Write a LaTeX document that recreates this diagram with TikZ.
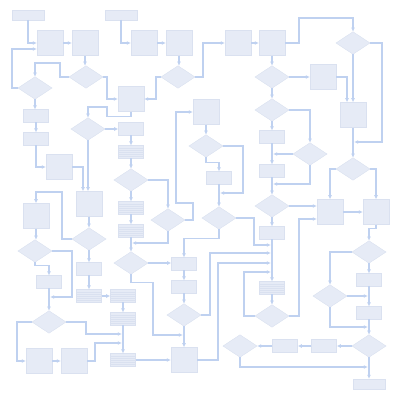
\documentclass[tikz,border=0pt]{standalone}
\usetikzlibrary{shapes.geometric, arrows.meta, calc}
\definecolor{chartfill}{HTML}{E6EBF6}
\definecolor{chartline}{HTML}{BFD1F0}
\definecolor{chartedge}{HTML}{DAE1F0}

\tikzset{
  base/.style={fill=chartfill, draw=chartedge, line width=0.3pt, inner sep=0pt, outer sep=0pt},
  box/.style={base, minimum width=0.65cm, minimum height=0.63cm},
  proc/.style={base, minimum width=0.63cm, minimum height=0.32cm},
  term/.style={base, minimum width=0.8cm, minimum height=0.25cm},
  dia/.style={base, diamond, minimum width=0.85cm, minimum height=0.56cm},
  lined/.style={proc, path picture={\foreach \k in {1,...,5}
      \draw[chartedge, line width=0.3pt] ($(path picture bounding box.north west)!\k/6!(path picture bounding box.south west)$) -- ++(1cm,0);}},
  flow/.style={chartline, line width=0.9pt},
}

\begin{document}
\begin{tikzpicture}[x=0.025cm, y=-0.025cm, >={Latex[length=3pt,width=2.8pt]}]
            \useasboundingbox (0,0) rectangle (400,400);

            % nodes
            \foreach \n/\px/\py in {t1/28/15, t2/121/15, t3/369/384}
                \node[term] (\n) at (\px,\py) {};
            \foreach \n/\px/\py in {a1/50/43, a2/85/43, a3/144/43, a4/179/43, a5/238/43, a6/272/43,
                    k1/323/77, e1/131/99, h1/206/112, l1/353/115, f1/59/167, g1/89/204,
                    m1/36/216, n1/330/212, n2/376/212, p1/39/361, p2/74/361, q1/184/360}
                \node[box] (\n) at (\px,\py) {};
            \foreach \n/\px/\py in {s1/36/116, s2/36/139, s3/131/129, s4/272/137, s5/272/171,
                    s6/219/178, s7/272/233, s8/184/264, s9/89/269, s10/369/280, s11/49/282,
                    s12/184/287, s13/369/313, s14/324/346, s15/285/346}
                \node[proc] (\n) at (\px,\py) {};
            \foreach \n/\px/\py in {r1/131/152, r2/131/208, r3/131/231, r4/272/288,
                    r5/89/296, r6/123/296, r7/123/319, r8/123/360}
                \node[lined] (\n) at (\px,\py) {};
            \foreach \n/\px/\py in {d1/35/88, d2/86/77, d3/178/77, d4/272/77, d5/353/43,
                    d6/272/110, d7/88/129, d8/206/146, d9/310/154, d10/353/169,
                    d11/131/180, d12/272/206, d13/219/218, d14/168/220, d15/89/239,
                    d16/35/251, d17/369/252, d18/131/263, d19/330/296, d20/184/315,
                    d21/272/316, d22/49/322, d23/369/346, d24/240/346}
                \node[dia] (\n) at (\px,\py) {};

            % where side arrows meet a line
            \coordinate (j1) at (220,193);
            \coordinate (j2) at (132,243);
            \coordinate (j3) at (183,335);
            \coordinate (j4) at (271,245);
            \coordinate (j5) at (271,253);
            \coordinate (j6) at (271,263);
            \coordinate (j7) at (271,272);
            \coordinate (j8) at (354,142);
            \coordinate (j9) at (273,154);
            \coordinate (j10) at (273,184);
            \coordinate (j11) at (368,296);
            \coordinate (j12) at (368,327);
            \coordinate (j13) at (368,367);
            \coordinate (j14) at (50,297);
            \coordinate (j15) at (122,334);
            \coordinate (j16) at (122,343);

            % straight arrows
            \foreach \u/\v in {a2/d2, a4/d3, a6/d4, d4/d6, d1/s1, s1/s2, d7/g1, s3/r1, r1/d11,
                    d11/r2, r2/r3, r3/d18, h1/d8, s6/d13, s8/s12, s12/d20, d20/q1, d6/s4,
                    s4/s5, s5/d12, d12/s7, s7/r4, r4/d21, d5/l1, l1/d10, d17/s10, s10/s13,
                    s13/d23, d23/t3, g1/d15, m1/d16, s11/d22, d15/s9, s9/r5, r6/r7, r7/r8}
                \draw[flow, ->] (\u.south) -- (\u.south |- \v.north);
            \foreach \u/\v in {a1/a2, a3/a4, a5/a6, d4/k1, d7/s3, d18/s8, r5/r6, n1/n2,
                    p1/p2, r8/q1, d12/n1}
                \draw[flow, ->] (\u.east) -- (\u.east -| \v.west);
            \foreach \u/\v in {d23/s14, s14/s15, s15/d24}
                \draw[flow, ->] (\u.west) -- (\u.west -| \v.east);

            % bent arrows
            \draw[flow, ->] (t1.south) |- (a1.west);
            \draw[flow, ->] (t2.south) |- (a3.west);
            \draw[flow, ->] (d1.west) -- ++(-6,0) |- ($(a1.west)+(0,6)$);
            \draw[flow, ->] (d2.west) -| (60,63) -| (d1.north);
            \draw[flow, ->] (d2.east) -- ++(4,0) |- (e1.west);
            \draw[flow, ->] (d3.west) -- ++(-5,0) |- (e1.east);
            \draw[flow, ->] (d3.east) -- ++(8,0) |- (a5.west);
            \draw[flow, ->] (e1.south) -- ++(0,5) -| (107,107) -| (d7.north);
            \draw[flow, ->] (s2.south) |- (f1.west);
            \draw[flow, ->] (f1.east) -| ($(g1.north)+(-6,0)$);
            \draw[flow, ->] (d11.east) -| (d14.north);
            \draw[flow, ->] (d14.east) -| (193,203) -| (176,112) -- (h1.west);
            \draw[flow, ->] (d8.south) -- ++(0,5) -| (s6.north);
            \draw[flow, ->] (d8.east) -| (243,193) -- (j1);
            \draw[flow, ->] (d13.east) -| (254,245) -- (j4);
            \draw[flow, ->] (d13.south) -- ++(0,9) -| (s8.north);
            \draw[flow, ->] (d14.south) |- (j2);
            \draw[flow, ->] (d20.east) -| (210,253) -- (j5);
            \draw[flow, ->] (q1.east) -| (218,263) -- (j6);
            \draw[flow, ->] (d21.west) -| (244,272) -- (j7);
            \draw[flow, ->] (d18.south) -- ++(0,8) -| (153,335) -- (j3);
            \draw[flow, ->] (a6.east) -| (299,18) -| (d5.north);
            \draw[flow, ->] (k1.east) -| ($(l1.north)+(-6,0)$);
            \draw[flow, ->] (d5.east) -| (382,142) -- (j8);
            \draw[flow, ->] (d10.west) -| (n1.north);
            \draw[flow, ->] (d10.east) -| (n2.north);
            \draw[flow, ->] (d6.east) -| (d9.north);
            \draw[flow, ->] (d9.west) -- (j9);
            \draw[flow, ->] (d9.south) |- (j10);
            \draw[flow, ->] (d21.east) -- ++(10,0) |- ($(n1.west)+(0,7)$);
            \draw[flow, ->] (n2.south) -- ++(0,4) -| (d17.north);
            \draw[flow, ->] (d17.west) -| (d19.north);
            \draw[flow, ->] (d19.east) -- (j11);
            \draw[flow, ->] (d19.south) |- (j12);
            \draw[flow, ->] (d24.south) |- (j13);
            \draw[flow, ->] (d15.west) -| (62,192) -| (m1.north);
            \draw[flow, ->] (d16.south) -- ++(0,3) -| (s11.north);
            \draw[flow, ->] (d16.east) -| (72,297) -- (j14);
            \draw[flow, ->] (d22.west) -- ++(-15,0) |- (p1.west);
            \draw[flow, ->] (d22.east) -- ++(20,0) |- (j15);
            \draw[flow, ->] (p2.east) -- ++(8,0) |- (j16);
        \end{tikzpicture}
\end{document}
